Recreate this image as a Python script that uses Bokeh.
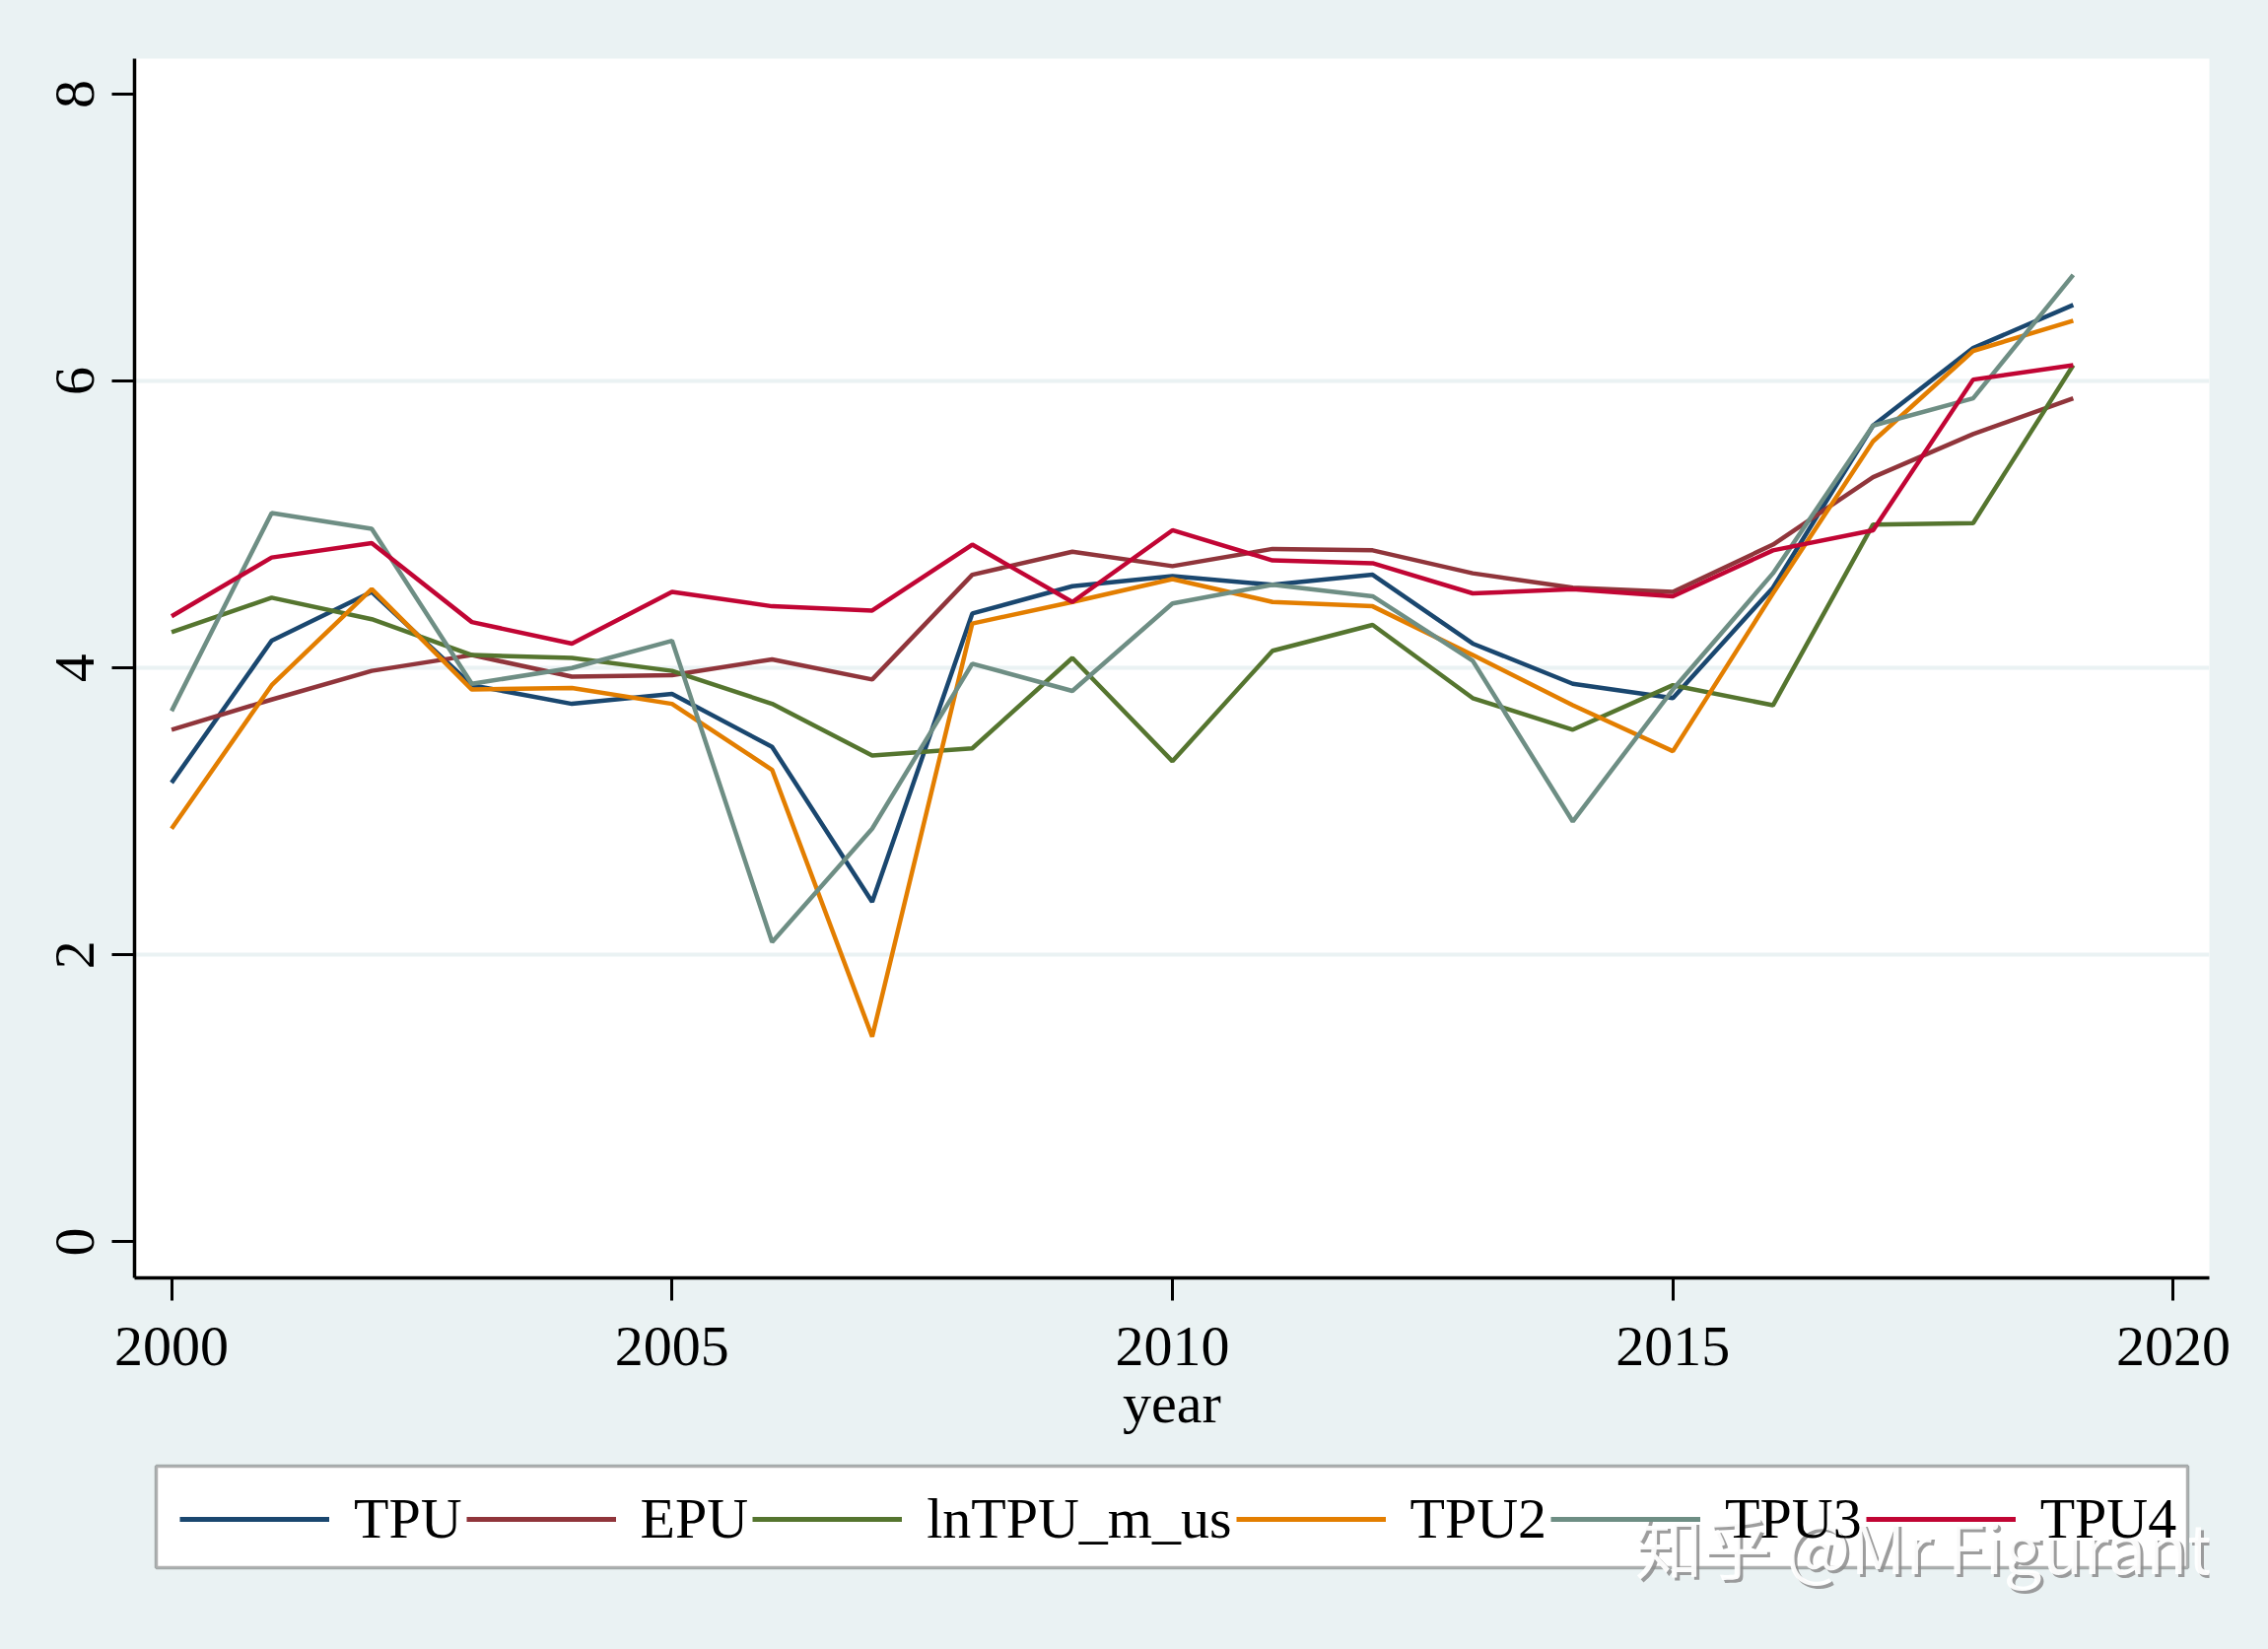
from bokeh.plotting import figure
from bokeh.layouts import column
from bokeh.models import Range1d, FixedTicker, Legend, LegendItem, Label, BoxAnnotation
from bokeh.embed import file_html
from bokeh.resources import INLINE

years = list(range(2000, 2020))
tpu = [3.20, 4.19, 4.53, 3.88, 3.75, 3.82, 3.45, 2.37, 4.38, 4.57,
       4.64, 4.58, 4.65, 4.17, 3.89, 3.79, 4.56, 5.69, 6.23, 6.53]
epu = [3.57, 3.78, 3.98, 4.09, 3.94, 3.95, 4.06, 3.92, 4.65, 4.81,
       4.71, 4.83, 4.82, 4.66, 4.56, 4.53, 4.86, 5.33, 5.63, 5.88]
lntpu_m_us = [4.25, 4.49, 4.34, 4.09, 4.07, 3.98, 3.75, 3.39, 3.44, 4.07,
              3.35, 4.12, 4.30, 3.79, 3.57, 3.88, 3.74, 5.00, 5.01, 6.11]
tpu2 = [2.88, 3.88, 4.55, 3.85, 3.86, 3.75, 3.29, 1.43, 4.31, 4.46,
        4.62, 4.46, 4.43, 4.09, 3.74, 3.42, 4.52, 5.58, 6.21, 6.42]
tpu3 = [3.70, 5.08, 4.97, 3.89, 4.00, 4.19, 2.09, 2.88, 4.03, 3.84,
        4.45, 4.58, 4.50, 4.05, 2.93, 3.85, 4.66, 5.69, 5.88, 6.74]
tpu4 = [4.36, 4.77, 4.87, 4.32, 4.17, 4.53, 4.43, 4.40, 4.86, 4.46,
        4.96, 4.75, 4.73, 4.52, 4.55, 4.50, 4.82, 4.96, 6.01, 6.11]

series_names = ["TPU", "EPU", "lnTPU_m_us", "TPU2", "TPU3", "TPU4"]
series_values = [tpu, epu, lntpu_m_us, tpu2, tpu3, tpu4]
series_colors = ["#1A476F", "#90353B", "#55752F", "#E37E00", "#6E8E84", "#C10534"]
x_ticks = [2000, 2005, 2010, 2015, 2020]
y_ticks = [0, 2, 4, 6, 8]
grid_ticks = [2, 4, 6]
watermark = "知乎 @Mr Figurant"

FONT = "Liberation Serif"
FSIZE = "58px"
BG = "#EAF2F3"
W, H_MAIN, H_LEG = 2301, 1480, 193

# ---------------- main chart ----------------
p = figure(width=W, height=H_MAIN, output_backend="svg", toolbar_location=None,
           x_range=Range1d(1999.63, 2020.36), y_range=Range1d(-0.251, 8.247),
           min_border_left=136, min_border_right=60, min_border_top=59,
           min_border_bottom=H_MAIN - 1296)
p.border_fill_color = BG
p.background_fill_color = "white"
p.outline_line_color = None

p.xgrid.visible = False
p.ygrid.ticker = FixedTicker(ticks=grid_ticks)
p.ygrid.grid_line_color = BG
p.ygrid.grid_line_width = 4

for ax in (p.xaxis[0], p.yaxis[0]):
    ax.axis_line_width = 3.5
    ax.axis_line_color = "black"
    ax.major_tick_line_width = 3
    ax.major_tick_line_color = "black"
    ax.major_tick_out = 23
    ax.major_tick_in = 0
    ax.minor_tick_line_color = None
    ax.major_label_text_font = FONT
    ax.major_label_text_font_size = FSIZE
    ax.major_label_text_color = "black"

p.xaxis.ticker = FixedTicker(ticks=x_ticks)
p.yaxis.ticker = FixedTicker(ticks=y_ticks)
p.xaxis.major_label_standoff = 27
p.yaxis.major_label_standoff = 18
p.yaxis.major_label_orientation = "vertical"
p.xaxis.axis_label = "year"
p.xaxis.axis_label_text_font = FONT
p.xaxis.axis_label_text_font_size = FSIZE
p.xaxis.axis_label_text_font_style = "normal"
p.xaxis.axis_label_text_color = "black"
p.xaxis.axis_label_standoff = 3

for vals, col in zip(series_values, series_colors):
    p.line(years, vals, line_color=col, line_width=4.5)

# ---------------- legend strip ----------------
# frame is aligned with the chart's frame; ranges are page pixels (y downwards)
q = figure(width=W, height=H_LEG, output_backend="svg", toolbar_location=None,
           x_range=Range1d(136, 2241), y_range=Range1d(1673, 1480),
           x_axis_location=None, y_axis_location=None,
           min_border_left=136, min_border_right=60, min_border_top=0, min_border_bottom=0)
q.border_fill_color = BG
q.background_fill_color = BG
q.outline_line_color = None
q.xgrid.visible = False
q.ygrid.visible = False

key_box = BoxAnnotation(left=158, right=2219, top=1487, bottom=1590,
                        fill_color="white", fill_alpha=1.0,
                        line_color="black", line_width=3.5, level="underlay")
q.add_layout(key_box)

items = []
for name, vals, col in zip(series_names, series_values, series_colors):
    # same data as the chart; outside this strip's ranges, so only the key shows
    r = q.line(years, vals, line_color=col, line_width=5)
    items.append(LegendItem(label=name, renderers=[r]))

legend = Legend(items=items, orientation="horizontal", location=(46, 99),
                glyph_width=152, glyph_height=40, label_standoff=25, spacing=4,
                padding=16, margin=0, border_line_color=None,
                background_fill_alpha=0.0,
                label_text_font=FONT, label_text_font_size=FSIZE,
                label_text_color="black")
q.add_layout(legend, "center")

wm_shadow = Label(x=1661, y=1569, text=watermark,
                  text_font="Noto Sans CJK SC", text_font_size="69px",
                  text_baseline="middle", text_color="#8c8c8c", text_alpha=0.85)
wm = Label(x=1658, y=1566, text=watermark,
           text_font="Noto Sans CJK SC", text_font_size="69px",
           text_baseline="middle", text_color="white", text_alpha=0.95)
q.add_layout(wm_shadow)
q.add_layout(wm)

layout = column(p, q, spacing=0)
html = file_html(layout, INLINE)
html = html.replace("</head>", "<style>html,body{background:%s;}</style></head>" % BG, 1)
open("out.html", "w").write(html)
